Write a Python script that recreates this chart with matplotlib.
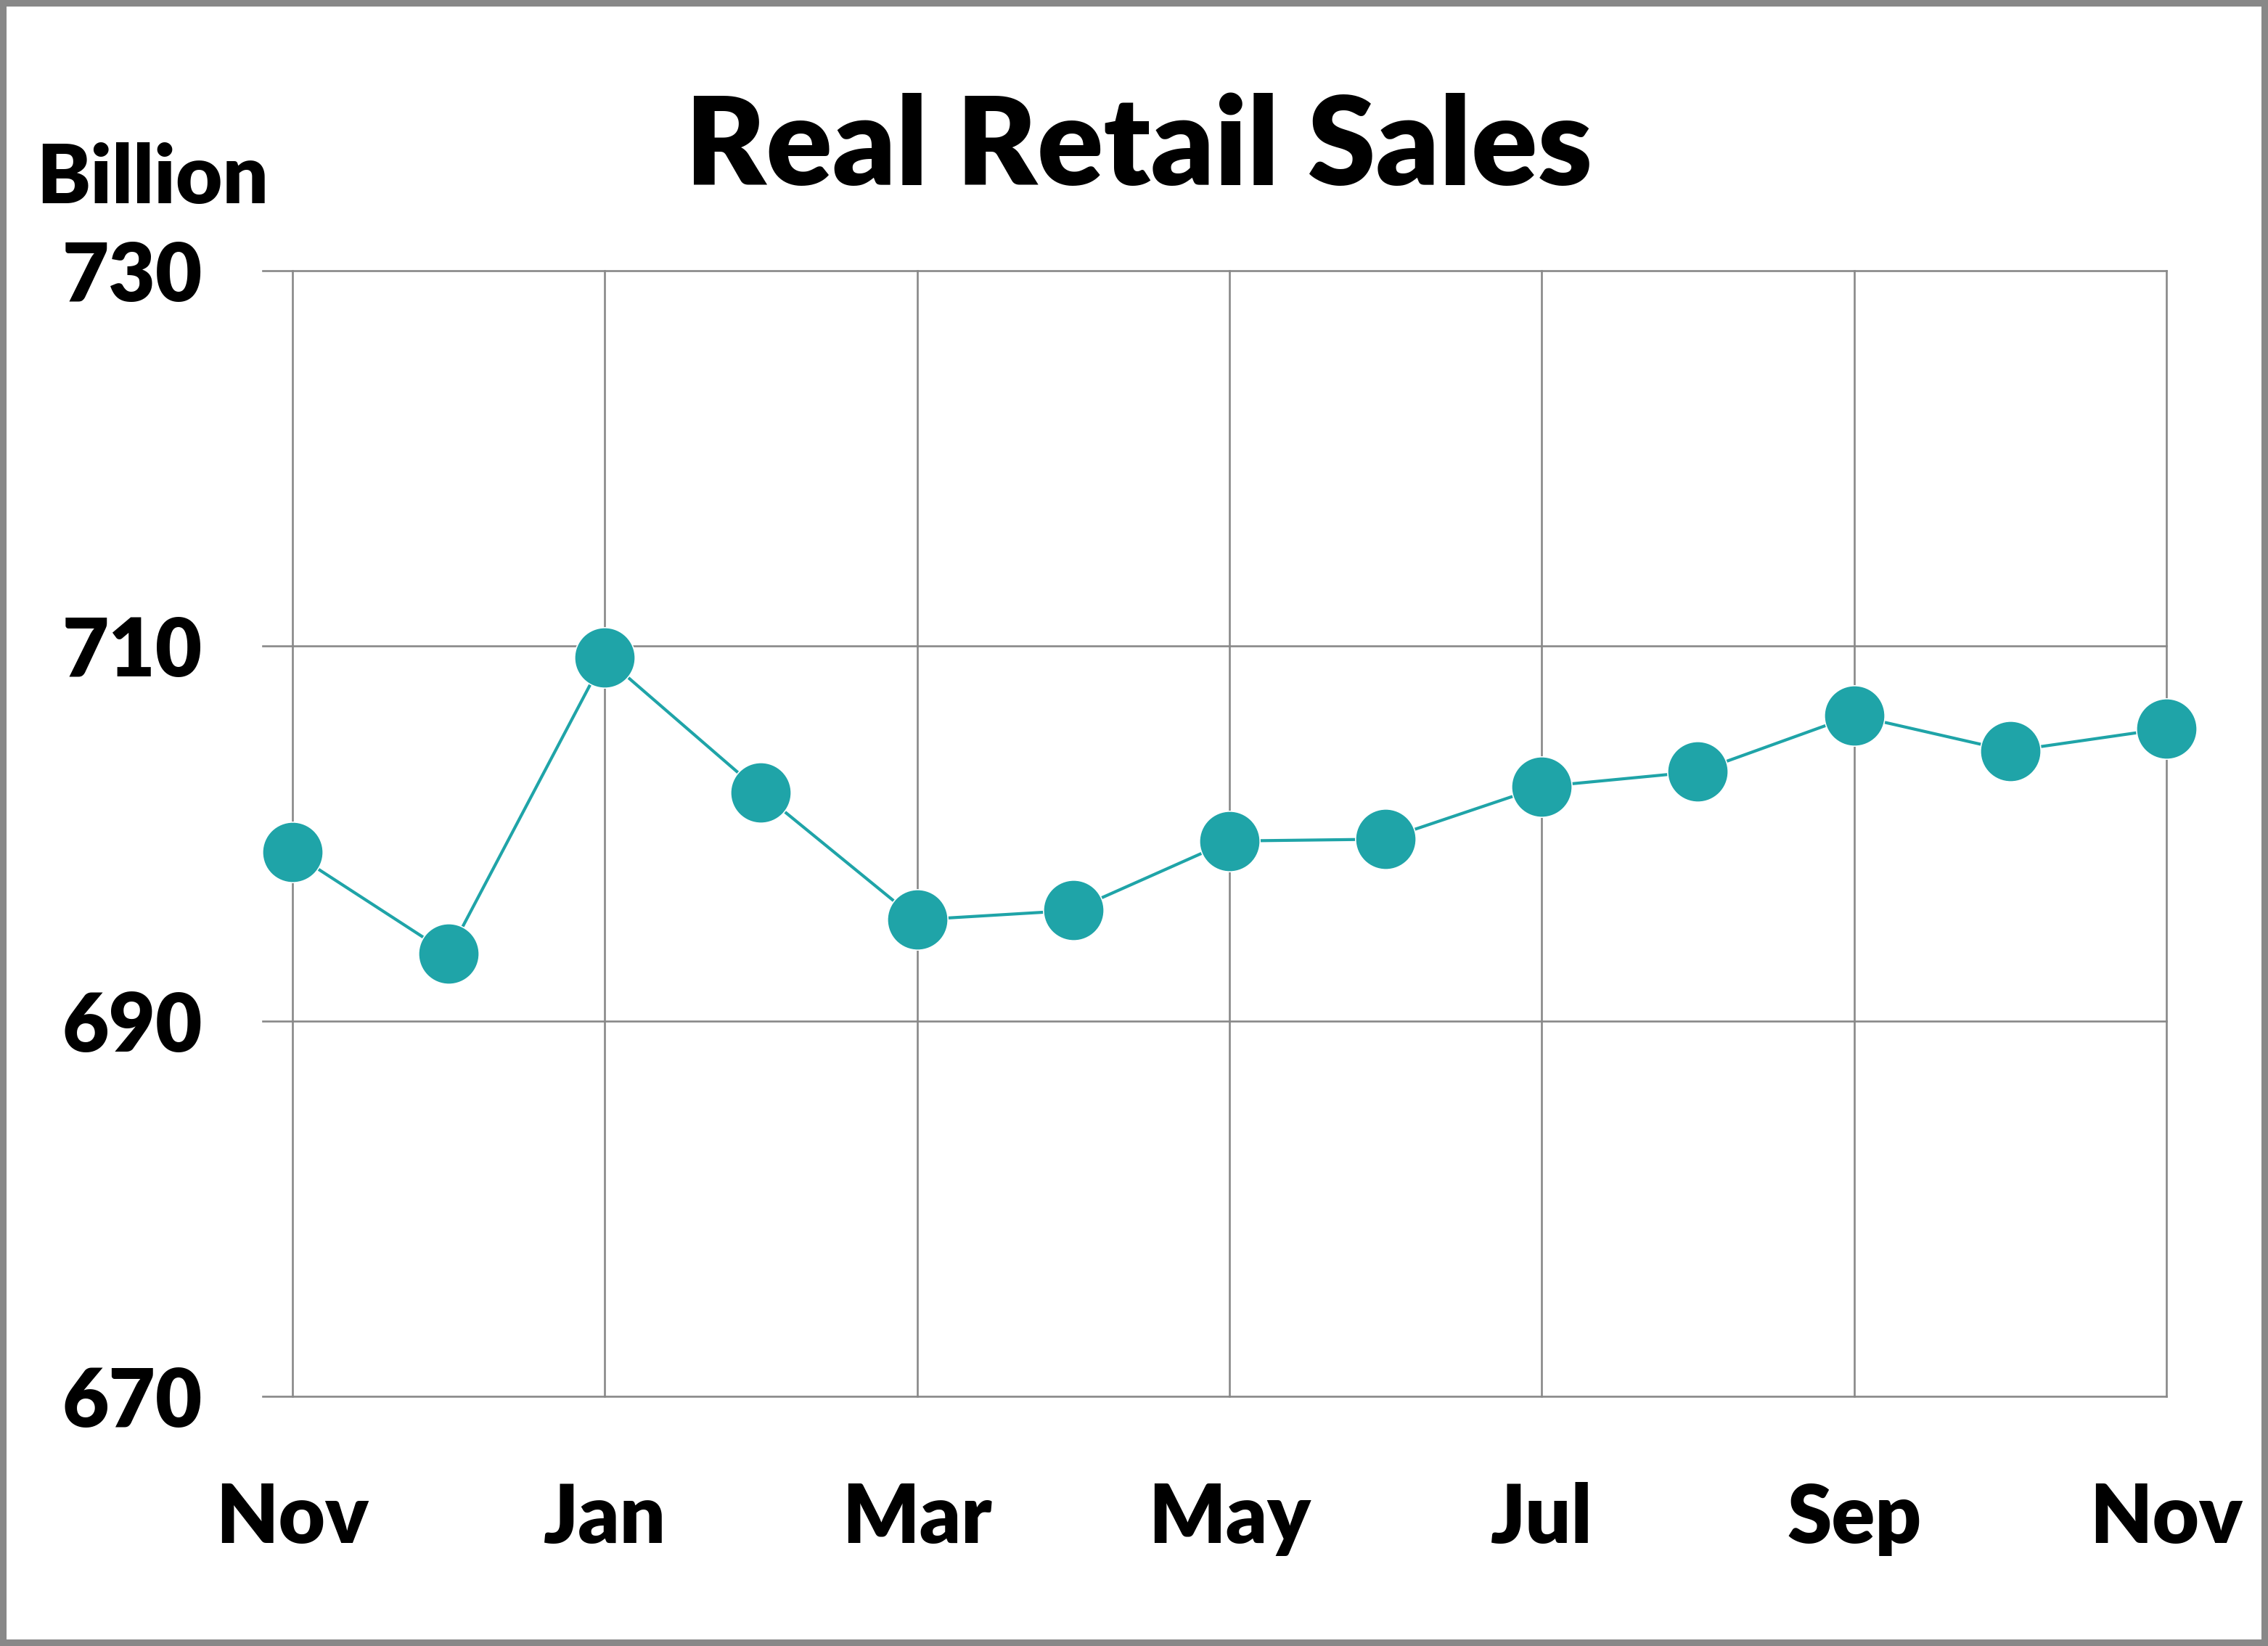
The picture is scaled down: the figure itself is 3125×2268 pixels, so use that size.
import matplotlib
matplotlib.use("Agg")
import matplotlib.pyplot as plt
from matplotlib.patches import Rectangle

# data (billions)
months = ["Nov", "Dec", "Jan", "Feb", "Mar", "Apr", "May",
          "Jun", "Jul", "Aug", "Sep", "Oct", "Nov"]
sales = [699.0, 693.6, 709.4, 702.2, 695.4, 695.9, 699.6,
         699.7, 702.5, 703.3, 706.3, 704.4, 705.6]
y_ticks = [670, 690, 710, 730]

teal = "#1FA4A8"
grid_gray = "#888888"
font = "Lato"


def main():
    fig = plt.figure(figsize=(31.25, 22.68), dpi=100)
    ax = fig.add_axes([0.1158, 0.1517, 0.9552 - 0.1158, 0.8355 - 0.1517])

    x = list(range(len(months)))
    ax.plot(x, sales, color=teal, lw=3, marker="o", markersize=60,
            markerfacecolor=teal, markeredgecolor="white", markeredgewidth=1.2,
            zorder=3, clip_on=False)

    ax.set_xlim(-0.19, 12)
    ax.set_ylim(670, 730)
    ax.set_yticks(y_ticks)
    ax.set_xticks(x[::2])
    ax.set_xticklabels(months[::2])

    ax.grid(True, color=grid_gray, lw=1.9)
    ax.set_axisbelow(True)
    # edge gridlines would otherwise be cut in half by the axes clip
    for gl in ax.get_xgridlines() + ax.get_ygridlines():
        gl.set_clip_on(False)
    for s in ax.spines.values():
        s.set_visible(False)
    ax.tick_params(axis="both", length=0, labelsize=80)
    ax.tick_params(axis="y", pad=60)
    ax.tick_params(axis="x", pad=85)
    for lab in ax.get_xticklabels() + ax.get_yticklabels():
        lab.set_fontfamily(font)
        lab.set_fontweight("heavy")

    fig.text(0.502, 0.8876, "Real Retail Sales", ha="center", va="baseline",
             fontsize=122, fontweight="heavy", fontfamily=font)
    fig.text(0.016, 0.8765, "Billion", ha="left", va="baseline",
             fontsize=80, fontweight="heavy", fontfamily=font)

    # gray frame around the whole picture
    fig.add_artist(Rectangle((0, 0), 1, 1, transform=fig.transFigure,
                             fill=False, edgecolor=grid_gray, lw=13))

    fig.savefig("out.png", dpi=100, facecolor="white")


if __name__ == "__main__":
    main()
